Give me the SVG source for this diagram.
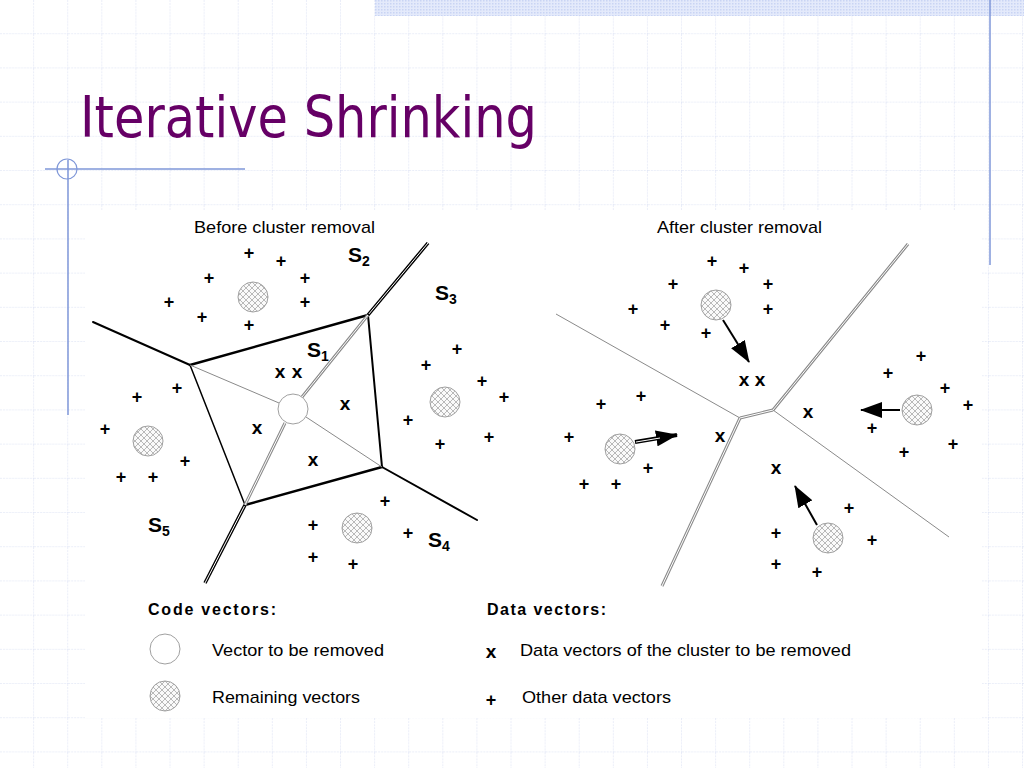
<svg xmlns="http://www.w3.org/2000/svg" width="1024" height="768" viewBox="0 0 1024 768">
<defs>
<pattern id="grid" patternUnits="userSpaceOnUse" x="0" y="0" width="34.1" height="34.2">
<path d="M34.1 0 V34.2 M0 34.2 H34.1" fill="none" stroke="#d6ddf2" stroke-width="1" stroke-dasharray="2 1"/>
</pattern>
<pattern id="dots" patternUnits="userSpaceOnUse" width="3" height="3">
<rect width="3" height="3" fill="#e4eafb"/>
<rect width="1.5" height="1.5" fill="#c9d4f4"/>
</pattern>
<pattern id="hatch" patternUnits="userSpaceOnUse" width="6" height="6">
<rect width="6" height="6" fill="#fafafa"/>
<path d="M0 0 L6 6 M6 0 L0 6" stroke="#a8a8a8" stroke-width="0.8"/>
</pattern>
<marker id="ah" viewBox="0 0 22 16" refX="21" refY="8" markerWidth="22" markerHeight="16" markerUnits="userSpaceOnUse" orient="auto">
<path d="M0 0 L22 8 L0 16 Z" fill="#000"/>
</marker>
</defs>
<style>
.pl{font-family:"Liberation Sans",Arial,sans-serif;font-weight:bold;font-size:18px;text-anchor:middle;fill:#000}
.xm{font-family:"Liberation Sans",Arial,sans-serif;font-weight:bold;font-size:19px;text-anchor:middle;fill:#000}
.lab{font-family:"Liberation Sans",Arial,sans-serif;font-weight:bold;font-size:21px;fill:#000}
.sub{font-size:14px}
.cap{font-family:"Liberation Sans",Arial,sans-serif;font-size:17px;fill:#000}
.hd{font-family:"Liberation Sans",Arial,sans-serif;font-size:16px;font-weight:bold;fill:#000}
.hc{fill:url(#hatch);stroke:#a0a0a0;stroke-width:1}
.ec{fill:#fff;stroke:#a0a0a0;stroke-width:1}
.blk{stroke:#000;fill:none;stroke-linecap:round}
.dblo{stroke:#000;stroke-width:3.5;fill:none}
.dbli{stroke:#fff;stroke-width:1;fill:none}
.gry{stroke:#8a8a8a;stroke-width:1;fill:none}
.gdo{stroke:#8a8a8a;stroke-width:3;fill:none}
.gdi{stroke:#fff;stroke-width:1;fill:none}
</style>
<rect width="1024" height="768" fill="#fff"/>
<rect width="1024" height="768" fill="url(#grid)"/>
<rect x="375" y="0" width="649" height="16" fill="url(#dots)"/>
<line x1="990" y1="0" x2="990" y2="265" stroke="#7f97d8" stroke-width="1.5"/>
<line x1="68" y1="160" x2="68" y2="415" stroke="#7f97d8" stroke-width="1.5"/>
<line x1="45" y1="169" x2="245" y2="169" stroke="#7f97d8" stroke-width="1.5"/>
<circle cx="67" cy="169" r="10" fill="none" stroke="#7f97d8" stroke-width="1.2"/>
<text x="80" y="137" font-family="DejaVu Sans, Verdana, sans-serif" font-size="57" fill="#660066" textLength="457" lengthAdjust="spacingAndGlyphs">Iterative Shrinking</text>
<rect x="85" y="210" width="897" height="508" fill="#fff"/>

<text class="cap" x="194" y="233" textLength="181" lengthAdjust="spacingAndGlyphs">Before cluster removal</text>
<text class="cap" x="657" y="233" textLength="165" lengthAdjust="spacingAndGlyphs">After cluster removal</text>

<g id="connectors">
<g id="left-lines">
<line class="dblo" x1="428" y1="243" x2="368" y2="315"/><line class="dbli" x1="428" y1="243" x2="368" y2="315"/>
<line class="dblo" x1="245" y1="505" x2="205" y2="583"/><line class="dbli" x1="245" y1="505" x2="205" y2="583"/>
<line class="blk" stroke-width="2" x1="93" y1="322" x2="190" y2="365"/>
<line class="blk" stroke-width="2" x1="382" y1="467" x2="477" y2="520"/>
<line class="blk" stroke-width="2.5" x1="190" y1="365" x2="368" y2="315"/>
<line class="blk" stroke-width="2" x1="368" y1="315" x2="382" y2="467"/>
<line class="blk" stroke-width="2.5" x1="382" y1="467" x2="245" y2="505"/>
<line class="blk" stroke-width="1.5" x1="245" y1="505" x2="190" y2="365"/>
<line class="gry" x1="190" y1="365" x2="279" y2="403"/>
<line class="gry" x1="306" y1="417" x2="382" y2="467"/>
<line class="gdo" x1="368" y1="315" x2="302" y2="397"/><line class="gdi" x1="368" y1="315" x2="302" y2="397"/>
<line class="gdo" x1="245" y1="505" x2="285" y2="423"/><line class="gdi" x1="245" y1="505" x2="285" y2="423"/>
</g>
<g id="right-lines">
<line class="gry" x1="556" y1="314" x2="740" y2="418"/>
<line class="gry" x1="773" y1="410" x2="949" y2="537"/>
<line class="gdo" x1="740" y1="418" x2="773" y2="410"/><line class="gdi" x1="740" y1="418" x2="773" y2="410"/>
<line class="gdo" x1="773" y1="410" x2="908" y2="244"/><line class="gdi" x1="773" y1="410" x2="908" y2="244"/>
<line class="gdo" x1="740" y1="418" x2="662" y2="586"/><line class="gdi" x1="740" y1="418" x2="662" y2="586"/>
</g>
<g id="arrows">
<line x1="723" y1="320" x2="749" y2="362" stroke="#000" stroke-width="2" marker-end="url(#ah)"/>
<line x1="900" y1="410" x2="861" y2="410" stroke="#000" stroke-width="2" marker-end="url(#ah)"/>
<line x1="817" y1="525" x2="795" y2="486" stroke="#000" stroke-width="2" marker-end="url(#ah)"/>
<line x1="635" y1="442" x2="677" y2="435" stroke="#000" stroke-width="4" marker-end="url(#ah)"/>
<line x1="636" y1="442" x2="660" y2="438" stroke="#fff" stroke-width="1"/>
</g>
</g>

<g id="left-S1">
<circle class="ec" cx="293" cy="409" r="15"/>
<text class="xm" x="280" y="378">x</text><text class="xm" x="297" y="378">x</text>
<text class="xm" x="345" y="410">x</text><text class="xm" x="257" y="434">x</text>
<text class="xm" x="313" y="466">x</text>
<text class="lab" x="307" y="357">S<tspan class="sub" dy="4">1</tspan></text>
</g>
<g id="left-S2">
<circle class="hc" cx="253" cy="297" r="15"/>
<text class="pl" x="249" y="259">+</text><text class="pl" x="281" y="267">+</text>
<text class="pl" x="209" y="284">+</text><text class="pl" x="305" y="284">+</text>
<text class="pl" x="169" y="308">+</text><text class="pl" x="305" y="308">+</text>
<text class="pl" x="202" y="323">+</text><text class="pl" x="249" y="331">+</text>
<text class="lab" x="348" y="262">S<tspan class="sub" dy="4">2</tspan></text>
</g>
<g id="left-S3">
<circle class="hc" cx="445" cy="402" r="15"/>
<text class="pl" x="457" y="355">+</text><text class="pl" x="426" y="371">+</text>
<text class="pl" x="482" y="387">+</text><text class="pl" x="504" y="403">+</text>
<text class="pl" x="408" y="426">+</text><text class="pl" x="489" y="443">+</text>
<text class="pl" x="440" y="450">+</text>
<text class="lab" x="435" y="300">S<tspan class="sub" dy="4">3</tspan></text>
</g>
<g id="left-S4">
<circle class="hc" cx="357" cy="528" r="15"/>
<text class="pl" x="385" y="507">+</text><text class="pl" x="313" y="531">+</text>
<text class="pl" x="408" y="539">+</text><text class="pl" x="313" y="563">+</text>
<text class="pl" x="353" y="570">+</text>
<text class="lab" x="428" y="547">S<tspan class="sub" dy="4">4</tspan></text>
</g>
<g id="left-S5">
<circle class="hc" cx="148" cy="441" r="15"/>
<text class="pl" x="177" y="394">+</text><text class="pl" x="137" y="403">+</text>
<text class="pl" x="105" y="435">+</text><text class="pl" x="185" y="467">+</text>
<text class="pl" x="121" y="483">+</text><text class="pl" x="153" y="483">+</text>
<text class="lab" x="148" y="532">S<tspan class="sub" dy="4">5</tspan></text>
</g>

<g id="right-top">
<circle class="hc" cx="716" cy="305" r="15"/>
<text class="pl" x="712" y="267">+</text><text class="pl" x="744" y="274">+</text>
<text class="pl" x="673" y="290">+</text><text class="pl" x="768" y="290">+</text>
<text class="pl" x="633" y="315">+</text><text class="pl" x="768" y="315">+</text>
<text class="pl" x="665" y="331">+</text><text class="pl" x="706" y="339">+</text>
</g>
<g id="right-right">
<circle class="hc" cx="917" cy="410" r="15"/>
<text class="pl" x="921" y="362">+</text><text class="pl" x="888" y="379">+</text>
<text class="pl" x="945" y="394">+</text><text class="pl" x="968" y="411">+</text>
<text class="pl" x="872" y="434">+</text><text class="pl" x="953" y="450">+</text>
<text class="pl" x="904" y="458">+</text>
</g>
<g id="right-left">
<circle class="hc" cx="620" cy="449" r="15"/>
<text class="pl" x="641" y="402">+</text><text class="pl" x="601" y="410">+</text>
<text class="pl" x="569" y="443">+</text><text class="pl" x="648" y="474">+</text>
<text class="pl" x="584" y="490">+</text><text class="pl" x="616" y="490">+</text>
</g>
<g id="right-bottom">
<circle class="hc" cx="828" cy="538" r="15"/>
<text class="pl" x="849" y="514">+</text><text class="pl" x="776" y="539">+</text>
<text class="pl" x="872" y="546">+</text><text class="pl" x="776" y="570">+</text>
<text class="pl" x="817" y="578">+</text>
</g>
<g id="right-x">
<text class="xm" x="744" y="386">x</text><text class="xm" x="760" y="386">x</text>
<text class="xm" x="808" y="418">x</text><text class="xm" x="720" y="442">x</text>
<text class="xm" x="776" y="474">x</text>
</g>

<g id="legend">
<text class="hd" x="148" y="615" textLength="128" lengthAdjust="spacing">Code vectors:</text>
<text class="hd" x="487" y="615" textLength="119" lengthAdjust="spacing">Data vectors:</text>
<circle class="ec" cx="165" cy="649" r="15"/>
<text class="cap" x="212" y="656" textLength="172" lengthAdjust="spacingAndGlyphs">Vector to be removed</text>
<circle class="hc" cx="165" cy="696" r="15"/>
<text class="cap" x="212" y="703" textLength="148" lengthAdjust="spacingAndGlyphs">Remaining vectors</text>
<text class="xm" x="491" y="658">x</text>
<text class="cap" x="520" y="656" textLength="331" lengthAdjust="spacingAndGlyphs">Data vectors of the cluster to be removed</text>
<text class="pl" x="491" y="706">+</text>
<text class="cap" x="522" y="703" textLength="149" lengthAdjust="spacingAndGlyphs">Other data vectors</text>
</g>
</svg>
